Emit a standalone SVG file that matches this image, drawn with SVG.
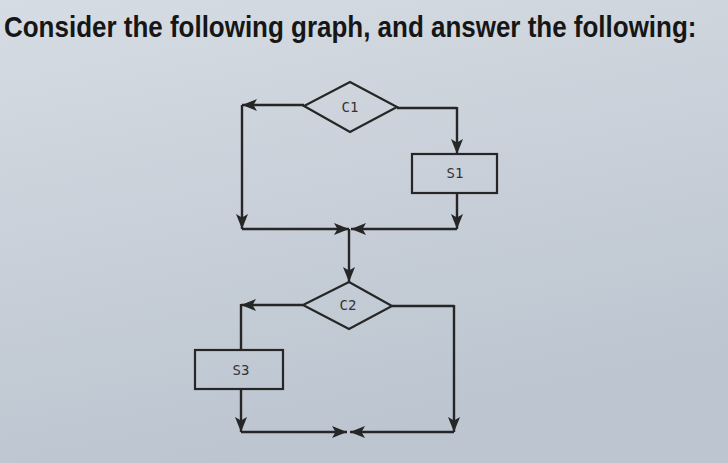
<svg xmlns="http://www.w3.org/2000/svg" width="728" height="463" viewBox="0 0 728 463">
<defs>
<linearGradient id="bg" x1="0" y1="0" x2="0.3" y2="1">
<stop offset="0" stop-color="#d6dce3"/>
<stop offset="0.5" stop-color="#c9d0d9"/>
<stop offset="1" stop-color="#bcc5d0"/>
</linearGradient>
<marker id="arr" markerUnits="userSpaceOnUse" markerWidth="16" markerHeight="12" refX="15" refY="6" orient="auto">
<path d="M0,0 L15,6 L0,12 L3.5,6 z" fill="#262626"/>
</marker>
<style>
.ln{fill:none;stroke:#262626;stroke-width:2.4;stroke-linejoin:miter}
.a{marker-end:url(#arr)}
.shape{fill:none;stroke:#262626;stroke-width:2.2}
.lbl{font-family:"DejaVu Sans Mono","Liberation Mono",monospace;font-size:14px;fill:#333;text-anchor:middle;dominant-baseline:central}
.title{font-family:"Liberation Sans",Arial,sans-serif;font-weight:bold;font-size:30px;fill:#161616}
</style>
</defs>
<rect width="728" height="463" fill="url(#bg)"/>
<text class="title" x="0" y="0" transform="translate(4,37) scale(0.866,1)">Consider the following graph, and answer the following:</text>

<g id="connectors">
<path class="ln a" d="M304,105 H242"/>
<path class="ln a" d="M242,105 V229"/>
<path class="ln a" d="M242,229 H349"/>
<path class="ln" d="M397,108 H457"/>
<path class="ln a" d="M457,107 V154"/>
<path class="ln a" d="M457,193 V229"/>
<path class="ln a" d="M457,229 H351"/>
<path class="ln a" d="M349,229 V282"/>
<path class="ln a" d="M303,305 H241"/>
<path class="ln" d="M241,304 V350"/>
<path class="ln a" d="M241,389 V432"/>
<path class="ln a" d="M241,432 H347"/>
<path class="ln" d="M392,306 H454"/>
<path class="ln a" d="M454,305 V432"/>
<path class="ln a" d="M454,432 H350"/>
</g>

<g id="C1">
<polygon class="shape" points="350,82 397,107 350,132 304,106"/>
<text class="lbl" x="350" y="107">C1</text>
</g>
<g id="S1">
<rect class="shape" x="412" y="154" width="85" height="39"/>
<text class="lbl" x="455" y="173">S1</text>
</g>
<g id="C2">
<polygon class="shape" points="349,282 392,306 349,329 303,305"/>
<text class="lbl" x="348" y="305">C2</text>
</g>
<g id="S3">
<rect class="shape" x="195" y="350" width="88" height="39"/>
<text class="lbl" x="241" y="370">S3</text>
</g>
</svg>
